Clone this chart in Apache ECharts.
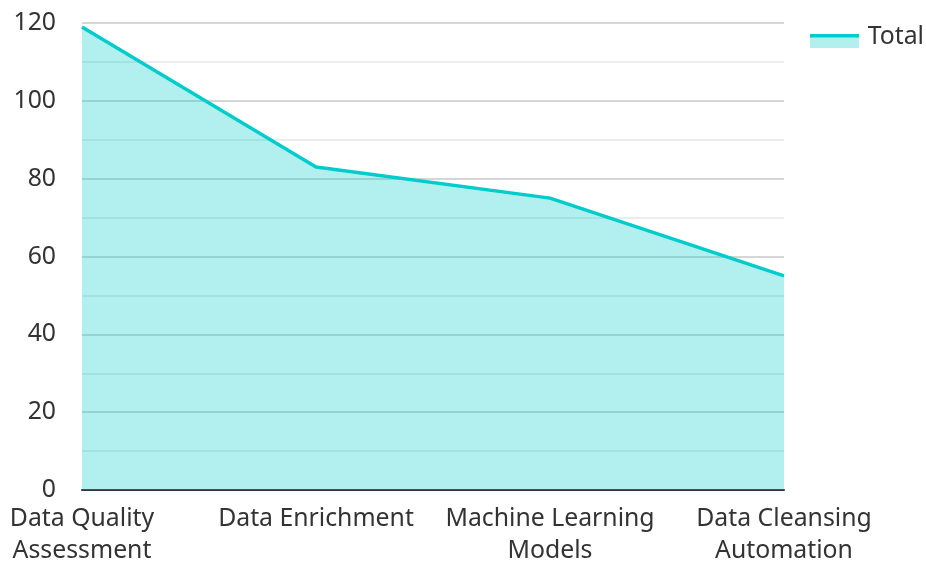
<!DOCTYPE html>
<html>
<head>
<meta charset="utf-8">
<script src="https://cdn.jsdelivr.net/npm/echarts@6/dist/echarts.min.js"></script>
<style>
  html, body { margin: 0; padding: 0; background: #fff; }
  #chart { width: 926px; height: 562px; }
</style>
</head>
<body>
<div id="chart"></div>
<script>
// data
const categories = ['Data Quality\nAssessment', 'Data Enrichment', 'Machine Learning\nModels', 'Data Cleansing\nAutomation'];
const totals = [119, 83, 75, 55];
const yTicks = [0, 20, 40, 60, 80, 100, 120];

const lineColor = '#00cccc';
const areaColor = '#b2f0f0';
const font = 'Noto Sans';
const fs = 24.8;

const chart = echarts.init(document.getElementById('chart'), null, { renderer: 'canvas' });

chart.setOption({
  animation: false,
  textStyle: { fontFamily: font },
  grid: { left: 82, right: 142, top: 23, bottom: 72, containLabel: false, outerBoundsMode: 'none' },
  legend: {
    right: 2,
    top: 24,
    padding: 0,
    itemWidth: 49,
    itemHeight: 14,
    textStyle: { fontSize: fs, color: '#333', fontFamily: font, padding: [0, 0, 0, 4] },
    data: [{ name: 'Total', icon: 'rect', itemStyle: { color: 'rgba(0,0,0,0)' } }]
  },
  // legend swatch: filled area with the line along its top edge
  graphic: [{
    type: 'group',
    right: 67,
    top: 34,
    children: [
      { type: 'rect', shape: { x: 0, y: 0, width: 49, height: 14 }, style: { fill: areaColor } },
      { type: 'rect', shape: { x: 0, y: 0, width: 49, height: 3.5 }, style: { fill: lineColor } }
    ],
    z: 100
  }],
  xAxis: {
    type: 'category',
    data: categories,
    boundaryGap: false,
    axisLine: { lineStyle: { color: '#333', width: 2 } },
    axisTick: { show: false },
    axisLabel: {
      fontSize: fs,
      color: '#333',
      lineHeight: 32,
      margin: 13,
      interval: 0
    }
  },
  yAxis: {
    type: 'value',
    min: yTicks[0],
    max: yTicks[yTicks.length - 1],
    interval: 20,
    axisLine: { show: false },
    axisTick: { show: false },
    axisLabel: { fontSize: fs, color: '#333', margin: 26 },
    splitLine: { lineStyle: { color: '#c8c8c8', width: 1.5 } },
    minorTick: { show: false, splitNumber: 2 },
    minorSplitLine: { show: true, lineStyle: { color: '#e6e6e6', width: 1.5 } }
  },
  series: [{
    name: 'Total',
    type: 'line',
    data: totals,
    showSymbol: false,
    symbol: 'none',
    lineStyle: { color: lineColor, width: 3.5 },
    itemStyle: { color: lineColor },
    areaStyle: { color: lineColor, opacity: 0.3 }
  }]
});
</script>
</body>
</html>
